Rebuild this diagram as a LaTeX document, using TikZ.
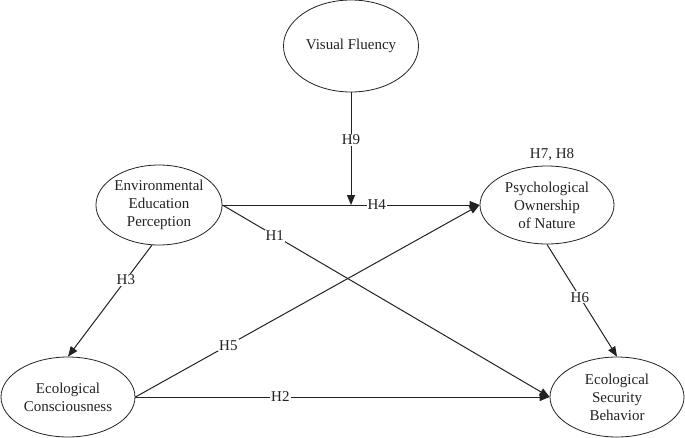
\documentclass[tikz,border=0pt]{standalone}
\usepackage{fontspec}
\setmainfont{Liberation Serif}
\usetikzlibrary{shapes.geometric,arrows.meta}
\definecolor{ink}{HTML}{222222}
\begin{document}
\begin{tikzpicture}[x=1pt,y=-1pt,
  construct/.style={ellipse,draw=ink,line width=0.8pt,inner sep=0pt,align=center,
    font=\fontsize{15}{18}\selectfont,text=ink},
  link/.style={draw=ink,line width=1pt,-{Triangle[length=10pt,width=8pt]}},
  hlab/.style={fill=white,inner sep=1pt,font=\fontsize{15}{18}\selectfont,text=ink}]
\useasboundingbox (0,0) rectangle (685,437);
\node[construct,minimum width=135pt,minimum height=92pt] (VF) at (351,46) {Visual Fluency};
\node[construct,minimum width=120pt,minimum height=80pt] (EEP) at (159,205) {Environmental\\Education\\Perception};
\node[construct,minimum width=134pt,minimum height=78pt] (PON) at (547,205) {Psychological\\Ownership\\of Nature};
\node[construct,minimum width=134pt,minimum height=80pt] (EC) at (68,397) {Ecological\\Consciousness};
\node[construct,minimum width=134pt,minimum height=80pt] (ESB) at (617,397) {Ecological\\Security\\Behavior};
\node[hlab,fill=none] (H78) at (552,155) {H7, H8};
\coordinate (M) at (VF.south |- EEP.east);
\draw[link] (VF.south) -- node[hlab,pos=0.42] {H9} (M);
\draw[link] (EEP.east) -- node[hlab,pos=0.6] {H4} (PON.west);
\draw[link] (EEP.east) -- node[hlab,pos=0.16] {H1} (ESB.west);
\draw[link] (EEP.-100) -- node[hlab,pos=0.31] {H3} (EC.north);
\draw[link] (EC.east) -- node[hlab,pos=0.27] {H5} (PON.west);
\draw[link] (EC.east) -- node[hlab,pos=0.35] {H2} (ESB.west);
\draw[link] (PON.south) -- node[hlab,pos=0.47] {H6} (ESB.north);
\end{tikzpicture}
\end{document}
